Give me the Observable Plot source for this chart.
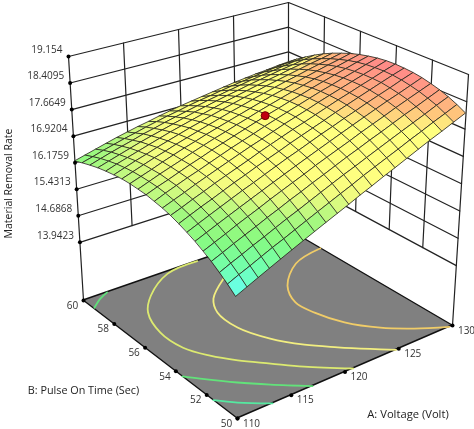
<!DOCTYPE html><html><head><meta charset="utf-8">
<script src="https://cdn.jsdelivr.net/npm/d3@7"></script>
<script src="https://cdn.jsdelivr.net/npm/@observablehq/plot@0.6"></script>
<style>html,body{margin:0;padding:0;background:#fff}svg{display:block;filter:blur(.3px)}</style></head><body><script>
const zTicks=[19.154,18.4095,17.6649,16.9204,16.1759,15.4313,14.6868,13.9423];
const aTicks=[110,115,120,125,130], bTicks=[50,52,54,56,58,60];
const voltage=[110,111,112,113,114,115,116,117,118,119,120,121,122,123,124,125,126,127,128,129,130];
const pulse=[50,50.5,51,51.5,52,52.5,53,53.5,54,54.5,55,55.5,56,56.5,57,57.5,58,58.5,59,59.5,60];
// one row per voltage, one column per pulse-on time
const mrr=[
[15.42,15.60,15.76,15.91,16.04,16.16,16.26,16.35,16.43,16.49,16.53,16.57,16.58,16.59,16.58,16.55,16.51,16.46,16.39,16.31,16.21],
[15.55,15.73,15.89,16.03,16.16,16.28,16.38,16.47,16.54,16.60,16.65,16.68,16.69,16.69,16.68,16.65,16.61,16.55,16.48,16.39,16.29],
[15.68,15.85,16.01,16.16,16.28,16.40,16.50,16.59,16.66,16.71,16.76,16.78,16.80,16.79,16.78,16.75,16.70,16.64,16.57,16.48,16.37],
[15.81,15.98,16.14,16.28,16.41,16.52,16.62,16.70,16.77,16.83,16.87,16.89,16.90,16.90,16.88,16.84,16.79,16.73,16.65,16.56,16.45],
[15.94,16.11,16.26,16.40,16.53,16.64,16.74,16.82,16.89,16.94,16.97,17.00,17.00,17.00,16.97,16.94,16.88,16.82,16.73,16.64,16.53],
[16.07,16.23,16.39,16.53,16.65,16.76,16.86,16.94,17.00,17.05,17.08,17.10,17.11,17.10,17.07,17.03,16.97,16.90,16.82,16.71,16.60],
[16.20,16.36,16.52,16.65,16.78,16.88,16.97,17.05,17.11,17.16,17.19,17.21,17.21,17.19,17.16,17.12,17.06,16.98,16.89,16.79,16.67],
[16.33,16.49,16.64,16.78,16.90,17.00,17.09,17.17,17.22,17.27,17.30,17.31,17.31,17.29,17.25,17.21,17.14,17.06,16.97,16.86,16.73],
[16.46,16.62,16.77,16.90,17.02,17.12,17.21,17.28,17.34,17.38,17.40,17.41,17.40,17.38,17.34,17.29,17.22,17.14,17.04,16.93,16.80],
[16.59,16.75,16.90,17.03,17.14,17.24,17.33,17.39,17.45,17.48,17.50,17.51,17.50,17.47,17.43,17.38,17.30,17.22,17.11,16.99,16.86],
[16.72,16.88,17.03,17.15,17.27,17.36,17.44,17.51,17.56,17.59,17.61,17.61,17.59,17.56,17.52,17.46,17.38,17.29,17.18,17.06,16.92],
[16.86,17.01,17.16,17.28,17.39,17.48,17.56,17.62,17.67,17.70,17.71,17.71,17.69,17.65,17.60,17.54,17.46,17.36,17.25,17.12,16.97],
[16.99,17.15,17.28,17.41,17.51,17.60,17.68,17.73,17.77,17.80,17.81,17.80,17.78,17.74,17.69,17.62,17.53,17.43,17.31,17.17,17.02],
[17.13,17.28,17.41,17.53,17.63,17.72,17.79,17.84,17.88,17.90,17.91,17.90,17.87,17.83,17.77,17.69,17.60,17.49,17.37,17.23,17.07],
[17.26,17.41,17.54,17.66,17.76,17.84,17.91,17.96,17.99,18.01,18.01,17.99,17.96,17.91,17.85,17.77,17.67,17.56,17.43,17.28,17.12],
[17.40,17.54,17.67,17.78,17.88,17.96,18.02,18.07,18.10,18.11,18.11,18.09,18.05,18.00,17.93,17.84,17.74,17.62,17.49,17.33,17.17],
[17.54,17.68,17.80,17.91,18.00,18.08,18.14,18.18,18.20,18.21,18.20,18.18,18.14,18.08,18.00,17.91,17.80,17.68,17.54,17.38,17.21],
[17.68,17.81,17.93,18.04,18.13,18.20,18.25,18.29,18.31,18.31,18.30,18.27,18.22,18.16,18.08,17.98,17.87,17.74,17.59,17.43,17.25],
[17.81,17.95,18.06,18.16,18.25,18.31,18.36,18.40,18.41,18.41,18.39,18.36,18.31,18.24,18.15,18.05,17.93,17.79,17.64,17.47,17.28],
[17.95,18.08,18.20,18.29,18.37,18.43,18.48,18.51,18.52,18.51,18.49,18.45,18.39,18.31,18.22,18.11,17.99,17.85,17.69,17.51,17.32],
[18.09,18.22,18.33,18.42,18.49,18.55,18.59,18.61,18.62,18.61,18.58,18.53,18.47,18.39,18.29,18.18,18.05,17.90,17.73,17.55,17.35]];
const designPoint={a:120,b:55,z:17.92};
const contours=[
{c:"#5fe07a",p:[[112.3,60],[111.3,59.77],[110.1,59.36]]},
{c:"#dcea70",p:[[121.1,60],[118,59.86],[114.9,58.9],[113.2,57.96],[112.25,56.53],[112.4,55.17],[113.4,54.11],[114.7,53.21],[116.4,52.27],[118.1,51.3],[120.75,50]]},
{c:"#f2ee80",p:[[122.6,58.76],[121.1,58.35],[118.6,57.36],[117.6,56.45],[117.5,55.11],[118.5,53.71],[120,52.55],[121.7,51.6],[123.4,50.7],[124.75,50]]},
{c:"#f0cc68",p:[[130,58.05],[127,57.65],[124.35,56.47],[123.25,55.26],[123.45,54.2],[124.3,52.9],[125.85,51.7],[127.65,50.8],[129.7,50]]},
{c:"#62e27a",p:[[110,53.57],[110.9,53.05],[112.85,51.98],[114.65,51.09],[116.98,50]]},
{c:"#55e8a0",p:[[110,51.56],[111.25,50.87],[113.26,50]]}];
const zFloor=12.31, zTop=19.154;
// the view: where the eight corners of the box fall in the picture plane
const floorC=[[237,418],[452,325],[288,229],[83,300]], topC=[[234.4,150],[468,74],[288,2],[68,56]];
function P(A,B,Z){const u=(A-110)/20,v=(B-50)/10,t=(Z-zFloor)/(zTop-zFloor);
 const bl=c=>[0,1].map(k=>c[0][k]*(1-u)*(1-v)+c[1][k]*u*(1-v)+c[2][k]*u*v+c[3][k]*(1-u)*v);
 const f=bl(floorC),g=bl(topC);return {x:f[0]+(g[0]-f[0])*t,y:f[1]+(g[1]-f[1])*t};}
const seg=[];let id=0;
const add=pts=>{id++;pts.forEach(p=>seg.push({...P(...p),id}));};
zTicks.forEach(z=>add([[110,60,z],[130,60,z],[130,50,z]]));
aTicks.slice(1,4).forEach(a=>add([[a,60,13.9423],[a,60,zTop]]));
bTicks.slice(1,5).forEach(b=>add([[130,b,13.9423],[130,b,zTop]]));
add([[110,60,zFloor],[110,60,zTop]]);add([[130,60,zFloor],[130,60,zTop]]);add([[130,50,zFloor],[130,50,zTop]]);
const fl=[[110,50],[130,50],[130,60],[110,60]].map(p=>P(p[0],p[1],zFloor));
const floor=[{x1:fl[0].x,y1:fl[0].y,x2:fl[3].x,y2:fl[3].y},{x1:fl[1].x,y1:fl[1].y,x2:fl[2].x,y2:fl[2].y}];
const cl=[];contours.forEach((c,i)=>c.p.forEach(p=>cl.push({...P(p[0],p[1],zFloor),i,c:c.c})));
const N=voltage.length-1,M=pulse.length-1;
const order=[];for(let i=0;i<N;i++)for(let j=0;j<M;j++)order.push([i,j]);
order.sort((a,b)=>(b[0]+b[1])-(a[0]+a[1]));
const cells=[];
order.forEach(([i,j],n)=>{
 const m=(mrr[i][j]+mrr[i+1][j]+mrr[i+1][j+1]+mrr[i][j+1])/4;
 const a=P(voltage[i],pulse[j],mrr[i][j]),b=P(voltage[i+1],pulse[j],mrr[i+1][j]),c=P(voltage[i+1],pulse[j+1],mrr[i+1][j+1]),d=P(voltage[i],pulse[j+1],mrr[i][j+1]);
 cells.push({id:n,m,x1:a.x,y1:a.y,x2:d.x,y2:d.y},{id:n,m,x1:b.x,y1:b.y,x2:c.x,y2:c.y});});
const zDots=zTicks.map(z=>({...P(110,60,z),z}));
const bDots=bTicks.map(b=>({...P(110,b,zFloor),b}));
const aDots=aTicks.map(a=>({...P(a,50,zFloor),a}));
const centre=P(designPoint.a,designPoint.b,designPoint.z);
const font="'Open Sans',sans-serif";
const plot=Plot.plot({width:474,height:429,margin:0,style:{background:"#fff",fontFamily:font},
 x:{domain:[0,474],range:[0,474],axis:null},y:{domain:[0,429],range:[0,429],axis:null},
 color:{type:"linear",domain:[15.42,15.8,16.2,16.5,16.85,17.1,17.85,18.1,18.6],range:["#66ffff","#70ffb0","#88fa80","#a8f880","#f0fb80","#ffff80","#ffff80","#ffc07c","#ff8888"]},
 marks:[
  Plot.line(seg,{x:"x",y:"y",z:"id",stroke:"#222",strokeWidth:1.2}),
  Plot.area(floor,{x1:"x1",y1:"y1",x2:"x2",y2:"y2",fill:"#808080",stroke:"#111",strokeWidth:1.4}),
  Plot.line(cl,{x:"x",y:"y",z:"i",stroke:"c",strokeWidth:1.8,curve:"catmull-rom"}),
  Plot.area(cells,{x1:"x1",y1:"y1",x2:"x2",y2:"y2",z:"id",fill:"m",stroke:"#2a2a20",strokeWidth:0.85}),
  Plot.dot(zDots,{x:"x",y:"y",r:2,fill:"#000"}),
  Plot.dot(bDots,{x:"x",y:"y",r:2,fill:"#000"}),
  Plot.dot(aDots,{x:"x",y:"y",r:2,fill:"#000"}),
  Plot.dot([centre],{x:"x",y:"y",r:4,fill:"#c00010",stroke:"#700",strokeWidth:1}),
  Plot.text(zDots,{x:"x",y:"y",text:d=>String(d.z),textAnchor:"end",dx:-6,dy:-7,fontSize:10,fill:"#333"}),
  Plot.text(bDots,{x:"x",y:"y",text:d=>String(d.b),dx:-11,dy:5,fontSize:10,fill:"#333"}),
  Plot.text(aDots,{x:"x",y:"y",text:d=>String(d.a),dx:14,dy:5,fontSize:10,fill:"#333"}),
  Plot.text(["Material Removal Rate"],{x:8,y:183,rotate:-90,fontSize:10.5,fill:"#222"}),
  Plot.text(["B: Pulse On Time (Sec)"],{x:83,y:390,fontSize:10.8,fill:"#222"}),
  Plot.text(["A: Voltage (Volt)"],{x:407.5,y:414,fontSize:11.2,fill:"#222"})
 ]});
document.body.appendChild(plot);
</script></body></html>
